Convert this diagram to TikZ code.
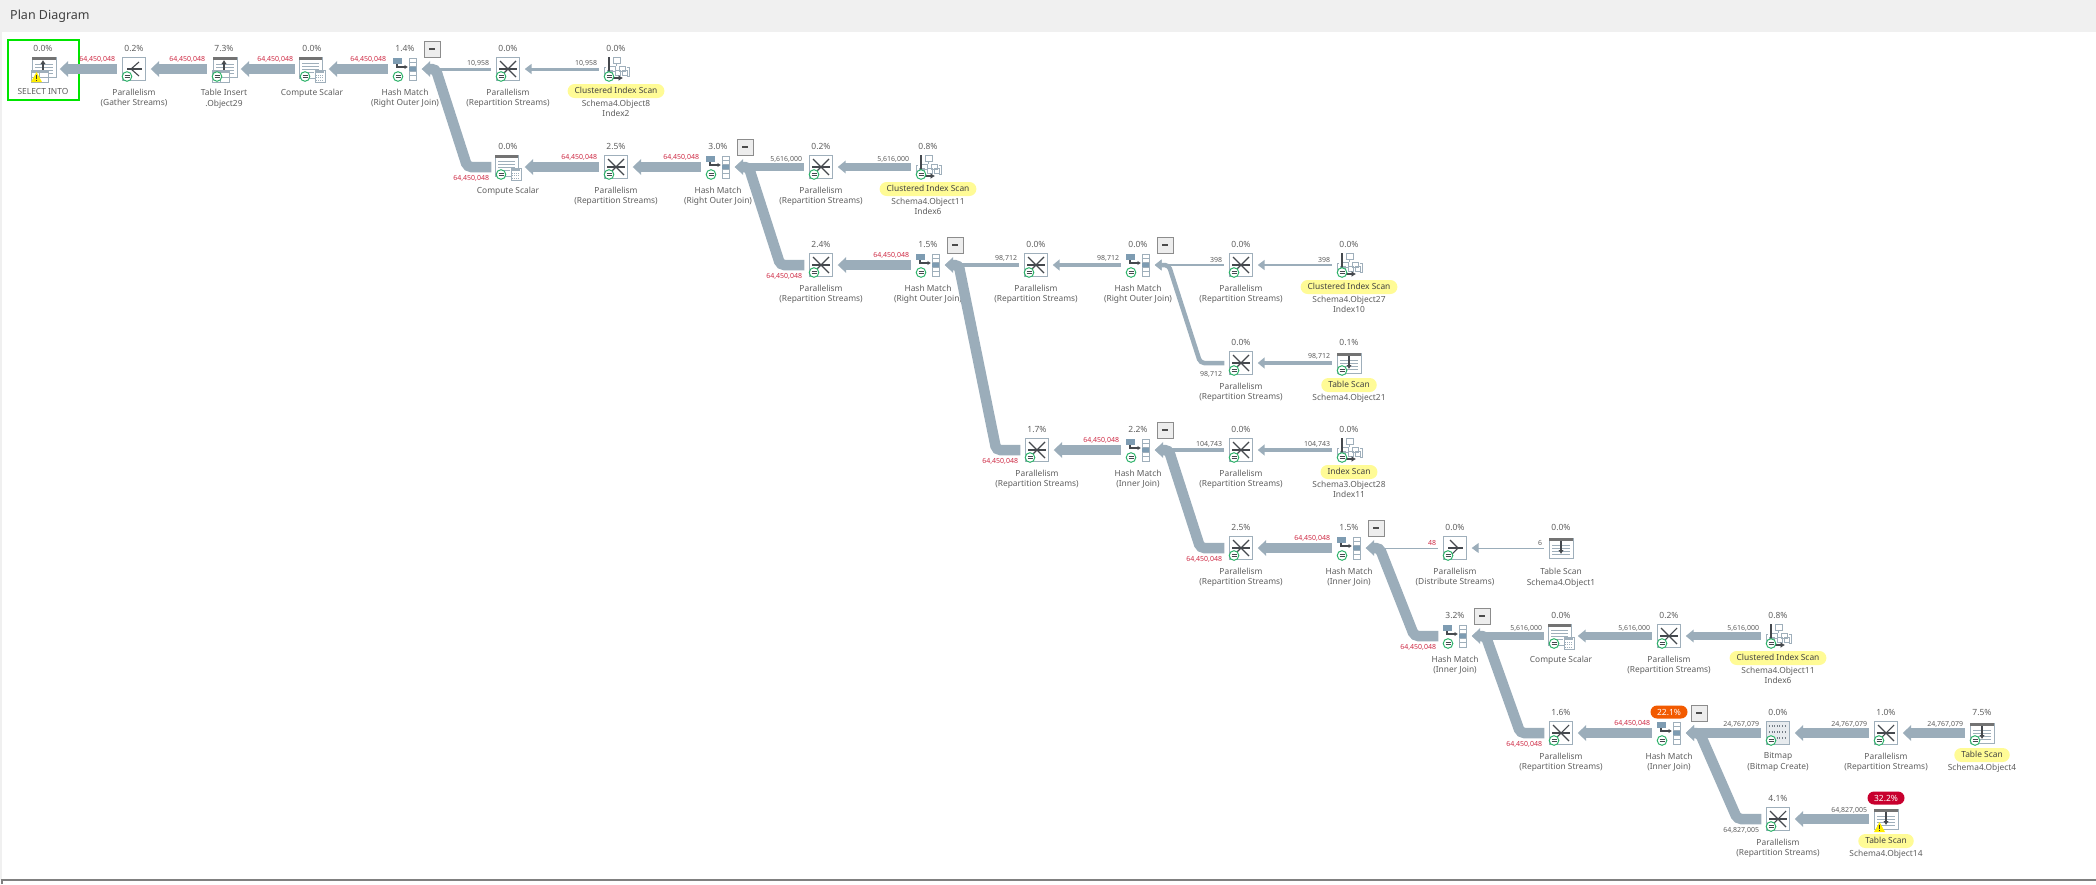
\documentclass[tikz,border=0pt]{standalone}
\usepackage{fontspec}
\setmainfont{Noto Sans}
\usetikzlibrary{arrows.meta}
\definecolor{flowgray}{HTML}{9BADBA}
\definecolor{textgray}{HTML}{5E5E5E}
\definecolor{countred}{HTML}{CE2B45}
\definecolor{iconedge}{HTML}{9FAFBB}
\definecolor{icondark}{HTML}{45494E}
\definecolor{iconblue}{HTML}{7E9CB2}
\definecolor{ringgreen}{HTML}{2FB36B}
\definecolor{markyellow}{HTML}{FFFB96}
\definecolor{panelgray}{HTML}{F0F0F0}
\definecolor{badgeorange}{HTML}{F25A00}
\definecolor{badgecrimson}{HTML}{C8002E}

% icon, percentage and operator text of one plan step
\newcommand{\opnode}[7]{
  \node[opicon] (#1) at (#2) {};
  \pic at (#1.center) {#3};
  \node[#4] (#1p) at ([yshift=21pt]#1.center) {#5};
  \node[#6] (#1t) at ([yshift=-22pt]#1.center) {#7};
}
% tip at the parent, row count over the child end
\newcommand{\straightflow}[6]{
  \draw[#3] (#1.east) -- (#2.west);
  \node[#4] (#2c) at ([xshift=-2pt,yshift=#5pt]#2.west) {#6};
}
\newcommand{\bentflow}[5]{
  \draw[#3] (#1.east) -- ++(14,0) -- ([xshift=-24pt]#2.west) -- (#2.west);
  \node[#4] (#2c) at ([xshift=-2pt,yshift=-11pt]#2.west) {#5};
}

\begin{document}
\begin{tikzpicture}[x=1pt, y=-1pt,
  opicon/.style = {minimum width=33pt, minimum height=26pt, inner sep=0pt},
  pcttext/.style = {font=\fontsize{8.5}{10}\selectfont, text=textgray, inner sep=0pt},
  pctorange/.style = {font=\fontsize{8.5}{10}\selectfont, text=white, fill=badgeorange,
    rounded corners=6.5pt, minimum width=37pt, minimum height=13pt, inner sep=0pt},
  pctred/.style = {pctorange, fill=badgecrimson},
  optext/.style = {font=\fontsize{8.4}{10.2}\selectfont, text=textgray, align=center,
    inner sep=0pt, anchor=north, yshift=2.5pt},
  opmark/.style = {font=\fontsize{8.4}{10.2}\selectfont, text=textgray!70!black, fill=markyellow,
    rounded corners=7pt, inner xsep=7pt, inner ysep=0pt, text height=7pt, text depth=2pt, minimum height=14pt},
  objtext/.style = {optext},
  countgray/.style = {font=\fontsize{7}{8}\selectfont, text=textgray, anchor=east, inner sep=0pt},
  countcrim/.style = {countgray, text=countred},
  flowxl/.style = {draw=flowgray, line width=10.5pt, rounded corners=4pt, {Triangle[length=8.5pt,width=15.5pt]}-},
  flowl/.style = {flowxl, line width=8pt, {Triangle[length=8pt,width=12.5pt]}-},
  flowm/.style = {flowxl, line width=4.5pt, {Triangle[length=7pt,width=11pt]}-},
  flows/.style = {flowxl, line width=3pt, {Triangle[length=7pt,width=10pt]}-},
  flowxs/.style = {flowxl, line width=1.7pt, {Triangle[length=7pt,width=10pt]}-},
  flowtiny/.style = {flowxl, line width=1pt, {Triangle[length=7pt,width=10pt]}-},
  minusbox/.style = {draw=black!45, fill=black!7, minimum size=16pt, inner sep=0pt, text=black!70},
  titletext/.style = {font=\fontsize{12.5}{15}\selectfont, text=black!75, anchor=west, inner sep=0pt},
  repart/.pic = {
    \draw[iconedge, fill=white, line width=1pt] (-11.5,-11.5) rectangle (11.5,11.5);
    \draw[icondark, line width=1.1pt] (-8,-8) -- (8,8) (-8,8) -- (8,-8);
    \draw[icondark, line width=2pt] (-9,0) -- (9,0);
  },
  gather/.pic = {
    \draw[iconedge, fill=white, line width=1pt] (-11.5,-11.5) rectangle (11.5,11.5);
    \draw[icondark, line width=1.1pt] (-3,0) -- (5,-7) (-3,0) -- (5,7);
    \draw[icondark, line width=2pt] (-7,0) -- (8,0);
  },
  distrib/.pic = {
    \draw[iconedge, fill=white, line width=1pt] (-11.5,-11.5) rectangle (11.5,11.5);
    \draw[icondark, line width=1.1pt] (3,0) -- (-5,-8) (3,0) -- (-5,8);
    \draw[icondark, line width=2pt] (-7,0) -- (8,0);
  },
  hashjoin/.pic = {
    \fill[iconblue] (-12,-11) rectangle (-3,-5);
    \draw[icondark, line width=1.4pt, -{Latex[length=3.5pt,width=4.5pt]}] (-8,-5) -- (-8,-2) -- (3,-2);
    \draw[iconedge, fill=white, line width=1pt] (4,-11) rectangle (11,11);
    \fill[iconblue] (4,-2.5) rectangle (11,2);
    \draw[iconedge, line width=.9pt] (4,-6.6) -- (11,-6.6) (4,-2.2) -- (11,-2.2) (4,2.2) -- (11,2.2) (4,6.6) -- (11,6.6);
  },
  clidx/.pic = {
    \draw[iconedge, line width=1pt, fill=white] (-3,-12) rectangle (4,-6) (-7,-3) rectangle (-1,2) (3,-3) rectangle (9,2)
      (-9,1) rectangle (-4,6) (-1,1) rectangle (4,6) (6,1) rectangle (11,6);
    \draw[iconedge, line width=1pt] (.5,-6) -- (.5,-3) (-10,-2) -- (-12,-2) -- (-12,7) -- (-10,7) (11,-2) -- (13,-2) -- (13,7) -- (11,7);
    \draw[icondark, line width=2pt] (-7,-12) -- (-7,6);
    \draw[icondark, line width=2pt, -{Latex[length=4.5pt,width=6pt]}] (-10,9) -- (7,9);
  },
  compute/.pic = {
    \draw[iconedge, fill=white, line width=1pt] (-13,-12) rectangle (10,9);
    \fill[black!55] (-13,-12) rectangle (10,-9);
    \draw[iconedge, line width=.9pt] (-10,-6) -- (7,-6) (-10,-3) -- (7,-3) (-10,0) -- (7,0) (-10,3) -- (2,3);
    \draw[iconedge, fill=white, line width=1pt] (3,1) rectangle (13,13);
    \fill[iconedge] (4,2) rectangle (12,4);
    \draw[iconedge, line width=.9pt, dash pattern=on 1pt off 1pt] (4,6) -- (12,6) (4,8.5) -- (12,8.5) (4,11) -- (12,11);
  },
  bitmap/.pic = {
    \draw[iconedge, fill=iconedge!25, line width=1pt] (-11.5,-11.5) rectangle (11.5,11.5);
    \draw[iconedge!50!icondark, line width=1.6pt, dash pattern=on 1pt off 1.6pt] (-9,-7) -- (9,-7) (-9,-1) -- (9,-1) (-9,5) -- (9,5);
  },
  tscan/.pic = {
    \draw[iconedge, fill=white, line width=1pt] (-12,-10) rectangle (12,10);
    \fill[black!55] (-12,-10) rectangle (12,-7);
    \draw[iconedge, line width=.9pt] (-9,-3) -- (9,-3) (-9,0) -- (9,0) (-9,3) -- (9,3) (-9,6) -- (9,6);
    \draw[icondark, line width=1.6pt, -{Latex[length=4pt,width=5.5pt]}] (0,-7) -- (0,6);
  },
  tinsert/.pic = {
    \draw[iconedge, fill=white, line width=1pt] (-11,-12) rectangle (13,8);
    \fill[black!55] (-11,-12) rectangle (13,-9);
    \draw[iconedge, line width=.9pt] (-8,-5) -- (10,-5) (-8,-2) -- (10,-2) (-8,1) -- (10,1) (-8,4) -- (10,4);
    \draw[icondark, line width=1.6pt, -{Latex[length=4pt,width=5.5pt]}] (0,2) -- (0,-9);
    \draw[iconedge, fill=white, line width=1pt] (-12,1) rectangle (5,13);
    \fill[iconedge] (-12,1) rectangle (5,4);
    \draw[iconedge, line width=.8pt] (-12,8) -- (5,8) (-4,4) -- (-4,13);
  },
  runring/.pic = {
    \draw[ringgreen, fill=white, line width=1pt] (-7,7.5) circle (4.8pt);
    \draw[icondark, line width=1pt] (-9.5,6.2) -- (-4.5,6.2) (-9.5,8.8) -- (-4.5,8.8);
  },
  warnsign/.pic = {
    \fill[yellow!95!orange] (-12,13) -- (-1,13) -- (-6.5,3) -- cycle;
    \draw[black!80, line width=1.2pt] (-6.5,5.5) -- (-6.5,10) (-6.5,10.8) -- (-6.5,12);
  }]
  \useasboundingbox (0,0) rectangle (2096,884);
  \fill[panelgray] (0,0) rectangle (2096,32);
  \fill[panelgray] (0,32) rectangle (1.5,880);
  \draw[black!50, line width=2pt] (1.5,884) -- (1.5,880) -- (2096,880);
  \node[titletext] (title) at (10,16) {Plan Diagram};

  % row by row, left to right
  \opnode{sel}{43,69}{tinsert}{pcttext}{0.0\%}{optext}{SELECT INTO}
  \opnode{par0}{134,69}{gather}{pcttext}{0.2\%}{optext}{Parallelism\\(Gather Streams)}
  \opnode{tins}{224,69}{tinsert}{pcttext}{7.3\%}{optext}{Table Insert}
  \opnode{cs1}{312,69}{compute}{pcttext}{0.0\%}{optext}{Compute Scalar}
  \opnode{hm1}{405,69}{hashjoin}{pcttext}{1.4\%}{optext}{Hash Match\\(Right Outer Join)}
  \opnode{par1}{508,69}{repart}{pcttext}{0.0\%}{optext}{Parallelism\\(Repartition Streams)}
  \opnode{cis1}{616,69}{clidx}{pcttext}{0.0\%}{opmark}{Clustered Index Scan}

  \opnode{cs2}{508,167}{compute}{pcttext}{0.0\%}{optext}{Compute Scalar}
  \opnode{par2}{616,167}{repart}{pcttext}{2.5\%}{optext}{Parallelism\\(Repartition Streams)}
  \opnode{hm2}{718,167}{hashjoin}{pcttext}{3.0\%}{optext}{Hash Match\\(Right Outer Join)}
  \opnode{par3}{821,167}{repart}{pcttext}{0.2\%}{optext}{Parallelism\\(Repartition Streams)}
  \opnode{cis2}{928,167}{clidx}{pcttext}{0.8\%}{opmark}{Clustered Index Scan}

  \opnode{par4}{821,265}{repart}{pcttext}{2.4\%}{optext}{Parallelism\\(Repartition Streams)}
  \opnode{hm3}{928,265}{hashjoin}{pcttext}{1.5\%}{optext}{Hash Match\\(Right Outer Join)}
  \opnode{par5}{1036,265}{repart}{pcttext}{0.0\%}{optext}{Parallelism\\(Repartition Streams)}
  \opnode{hm4}{1138,265}{hashjoin}{pcttext}{0.0\%}{optext}{Hash Match\\(Right Outer Join)}
  \opnode{par6}{1241,265}{repart}{pcttext}{0.0\%}{optext}{Parallelism\\(Repartition Streams)}
  \opnode{cis3}{1349,265}{clidx}{pcttext}{0.0\%}{opmark}{Clustered Index Scan}

  \opnode{par7}{1241,363}{repart}{pcttext}{0.0\%}{optext}{Parallelism\\(Repartition Streams)}
  \opnode{ts1}{1349,363}{tscan}{pcttext}{0.1\%}{opmark}{Table Scan}

  \opnode{par8}{1037,450}{repart}{pcttext}{1.7\%}{optext}{Parallelism\\(Repartition Streams)}
  \opnode{hm5}{1138,450}{hashjoin}{pcttext}{2.2\%}{optext}{Hash Match\\(Inner Join)}
  \opnode{par9}{1241,450}{repart}{pcttext}{0.0\%}{optext}{Parallelism\\(Repartition Streams)}
  \opnode{is1}{1349,450}{clidx}{pcttext}{0.0\%}{opmark}{Index Scan}

  \opnode{par10}{1241,548}{repart}{pcttext}{2.5\%}{optext}{Parallelism\\(Repartition Streams)}
  \opnode{hm6}{1349,548}{hashjoin}{pcttext}{1.5\%}{optext}{Hash Match\\(Inner Join)}
  \opnode{par11}{1455,548}{distrib}{pcttext}{0.0\%}{optext}{Parallelism\\(Distribute Streams)}
  \opnode{ts2}{1561,548}{tscan}{pcttext}{0.0\%}{optext}{Table Scan}

  \opnode{hm7}{1455,636}{hashjoin}{pcttext}{3.2\%}{optext}{Hash Match\\(Inner Join)}
  \opnode{cs3}{1561,636}{compute}{pcttext}{0.0\%}{optext}{Compute Scalar}
  \opnode{par12}{1669,636}{repart}{pcttext}{0.2\%}{optext}{Parallelism\\(Repartition Streams)}
  \opnode{cis4}{1778,636}{clidx}{pcttext}{0.8\%}{opmark}{Clustered Index Scan}

  \opnode{par13}{1561,733}{repart}{pcttext}{1.6\%}{optext}{Parallelism\\(Repartition Streams)}
  \opnode{hm8}{1669,733}{hashjoin}{pctorange}{22.1\%}{optext}{Hash Match\\(Inner Join)}
  \opnode{bm1}{1778,733}{bitmap}{pcttext}{0.0\%}{optext}{Bitmap\\(Bitmap Create)}
  \opnode{par14}{1886,733}{repart}{pcttext}{1.0\%}{optext}{Parallelism\\(Repartition Streams)}
  \opnode{ts3}{1982,733}{tscan}{pcttext}{7.5\%}{opmark}{Table Scan}

  \opnode{par15}{1778,819}{repart}{pcttext}{4.1\%}{optext}{Parallelism\\(Repartition Streams)}
  \opnode{ts4}{1886,819}{tscan}{pctred}{32.2\%}{opmark}{Table Scan}

  % object names under the operator text
  \foreach \nd/\obj in {tins/.Object29, cis1/Schema4.Object8\\Index2, cis2/Schema4.Object11\\Index6,
    cis3/Schema4.Object27\\Index10, ts1/Schema4.Object21, is1/Schema3.Object28\\Index11,
    ts2/Schema4.Object1, cis4/Schema4.Object11\\Index6, ts3/Schema4.Object4, ts4/Schema4.Object14}
    \node[objtext] (\nd o) at ([yshift=-33.5pt]\nd.center) {\obj};

  \foreach \nd in {par0,tins,cs1,hm1,par1,cis1,cs2,par2,hm2,par3,cis2,par4,hm3,par5,hm4,par6,cis3,
    par7,ts1,par8,hm5,par9,is1,par10,hm6,par11,hm7,cs3,par12,cis4,par13,hm8,bm1,par14,ts3,par15}
    \pic at (\nd.center) {runring};
  \pic at (sel.center) {warnsign};
  \pic at (ts4.center) {warnsign};

  \foreach \nd/\dx in {hm1/27,hm2/27,hm3/27,hm4/27,hm5/27,hm6/27,hm7/27,hm8/30}
    \node[minusbox] (\nd m) at ([xshift=\dx pt,yshift=20pt]\nd.center) {\rule{6pt}{1.6pt}};

  \node[draw=green!90!black, line width=1.5pt, minimum width=71pt, minimum height=60pt, inner sep=0pt] (selbox) at (43.5,70) {};

  \straightflow{sel}{par0}{flowxl}{countcrim}{10}{64,450,048}
  \straightflow{par0}{tins}{flowxl}{countcrim}{10}{64,450,048}
  \straightflow{tins}{cs1}{flowxl}{countcrim}{10}{64,450,048}
  \straightflow{cs1}{hm1}{flowxl}{countcrim}{10}{64,450,048}
  \straightflow{hm1}{par1}{flows}{countgray}{6}{10,958}
  \straightflow{par1}{cis1}{flows}{countgray}{6}{10,958}
  \bentflow{hm1}{cs2}{flowxl}{countcrim}{64,450,048}
  \straightflow{cs2}{par2}{flowxl}{countcrim}{10}{64,450,048}
  \straightflow{par2}{hm2}{flowxl}{countcrim}{10}{64,450,048}
  \straightflow{hm2}{par3}{flowl}{countgray}{8}{5,616,000}
  \straightflow{par3}{cis2}{flowl}{countgray}{8}{5,616,000}
  \bentflow{hm2}{par4}{flowxl}{countcrim}{64,450,048}
  \straightflow{par4}{hm3}{flowxl}{countcrim}{10}{64,450,048}
  \straightflow{hm3}{par5}{flowm}{countgray}{7}{98,712}
  \straightflow{par5}{hm4}{flowm}{countgray}{7}{98,712}
  \straightflow{hm4}{par6}{flowxs}{countgray}{5}{398}
  \straightflow{par6}{cis3}{flowxs}{countgray}{5}{398}
  \bentflow{hm4}{par7}{flowm}{countgray}{98,712}
  \straightflow{par7}{ts1}{flowm}{countgray}{7}{98,712}
  \bentflow{hm3}{par8}{flowxl}{countcrim}{64,450,048}
  \straightflow{par8}{hm5}{flowxl}{countcrim}{10}{64,450,048}
  \straightflow{hm5}{par9}{flowm}{countgray}{6}{104,743}
  \straightflow{par9}{is1}{flowm}{countgray}{6}{104,743}
  \bentflow{hm5}{par10}{flowxl}{countcrim}{64,450,048}
  \straightflow{par10}{hm6}{flowxl}{countcrim}{10}{64,450,048}
  \straightflow{hm6}{par11}{flowtiny}{countcrim}{5}{48}
  \straightflow{par11}{ts2}{flowtiny}{countgray}{5}{6}
  \bentflow{hm6}{hm7}{flowxl}{countcrim}{64,450,048}
  \straightflow{hm7}{cs3}{flowl}{countgray}{8}{5,616,000}
  \straightflow{cs3}{par12}{flowl}{countgray}{8}{5,616,000}
  \straightflow{par12}{cis4}{flowl}{countgray}{8}{5,616,000}
  \bentflow{hm7}{par13}{flowxl}{countcrim}{64,450,048}
  \straightflow{par13}{hm8}{flowxl}{countcrim}{10}{64,450,048}
  \straightflow{hm8}{bm1}{flowxl}{countgray}{9}{24,767,079}
  \straightflow{bm1}{par14}{flowxl}{countgray}{9}{24,767,079}
  \straightflow{par14}{ts3}{flowxl}{countgray}{9}{24,767,079}
  \bentflow{hm8}{par15}{flowxl}{countgray}{64,827,005}
  \straightflow{par15}{ts4}{flowxl}{countgray}{9}{64,827,005}
\end{tikzpicture}
\end{document}
